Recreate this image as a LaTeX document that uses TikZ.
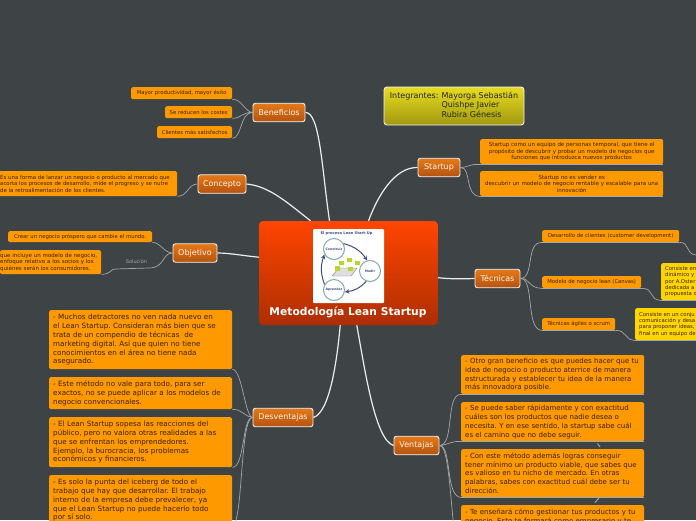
\documentclass[tikz,border=0pt]{standalone}
\usepackage{fontspec}
\setmainfont{DejaVu Sans}
\frenchspacing
\definecolor{bgc}{HTML}{3E4446}
\definecolor{leafc}{HTML}{FF9900}
\definecolor{leaft}{HTML}{3A2004}
\definecolor{yelc}{HTML}{FFD500}
\definecolor{linec}{HTML}{A3A8A8}
\definecolor{mainl}{HTML}{ECEEEE}
\definecolor{ringc}{HTML}{7FAAB5}
\definecolor{arrc}{HTML}{3F4F86}
\definecolor{ctop}{HTML}{FF4500}
\definecolor{cbot}{HTML}{AD2E00}
\definecolor{ttop}{HTML}{E67A18}
\definecolor{tbot}{HTML}{B45210}
\definecolor{itop}{HTML}{E8DC20}
\definecolor{ibot}{HTML}{A09810}
\definecolor{stubc}{HTML}{8FA6AE}
\tikzset{
 x=1pt,y=-1pt,
 topic/.style={draw=white!90!gray,line width=.9pt,rounded corners=2.5pt,top color=ttop,bottom color=tbot,text=white!92!orange,font=\fontsize{8}{9}\selectfont,inner sep=0pt,minimum height=18.5pt,anchor=center},
 leafs/.style={fill=leafc,rounded corners=1.5pt,text=leaft,font=\fontsize{5.3}{6.4}\selectfont,inner sep=0pt,anchor=north west,align=left},
 leafb/.style={fill=leafc,rounded corners=1.5pt,text=leaft,font=\fontsize{7.2}{8.9}\selectfont,inner sep=0pt,anchor=north west,align=left,inner xsep=4pt,text width=175pt},
 leafv/.style={leafb,font=\fontsize{7}{8.9}\selectfont},
 yel/.style={fill=yelc,rounded corners=1.5pt,text=leaft,font=\fontsize{5.3}{6.4}\selectfont,inner sep=0pt,inner xsep=4pt,anchor=north west,align=left},
 wire/.style={draw=linec,line width=.7pt},
 mainw/.style={draw=mainl,line width=1.2pt},
 stub/.style={draw=stubc,line width=1pt},
 ring/.style={draw=ringc,line width=1pt,fill=white,circle,minimum size=21pt,inner sep=0pt,text=arrc,font=\fontsize{3.2}{3}\bfseries\selectfont},
 loopar/.style={draw=arrc,line width=1pt,-stealth},
}
\begin{document}
\begin{tikzpicture}
\useasboundingbox (0,0) rectangle (696,520);
\clip (0,0) rectangle (696,520);
\fill[bgc] (0,0) rectangle (696,520);

% central
\node[rounded corners=4pt,top color=ctop,bottom color=cbot,minimum width=179pt,minimum height=104pt,inner sep=0pt] (c) at (348.5,273) {};
\node[fill=white,rounded corners=1pt,minimum width=71pt,minimum height=74pt,inner sep=0pt] (img) at (348.5,266) {};
\node[text=arrc,font=\fontsize{3.7}{4}\bfseries\selectfont,inner sep=0pt] (imt) at (346.5,233) {El proceso Lean Start-Up};
\node[ring] (r1) at (334,249) {Construir};
\node[ring] (r2) at (370,271) {Medir};
\node[ring] (r3) at (334,290) {Aprender};
\fill[gray!25,draw=gray,line width=.4pt] (332,276) -- (339,268) -- (357,268) -- (351,276) -- cycle;
\fill[yellow!75!green!85!gray] (335,266) rectangle (340,271) (339,261) rectangle (344,265) (347,258) rectangle (352,262) (355,261) rectangle (360,265) (348,267) rectangle (353,271);
\draw[loopar] (r1.30) to[bend left=20] (r2.105);
\draw[loopar] (r2.250) to[bend left=20] (r3.-10);
\draw[loopar] (r3.150) to[bend left=20] (r1.210);
\node[text=white,font=\fontsize{10.7}{12}\bfseries\selectfont,inner sep=0pt] (ct) at (348,312) {Metodología Lean Startup};

% integrantes
\node[draw=white!90!gray,line width=.9pt,rounded corners=3pt,top color=itop,bottom color=ibot,minimum width=140pt,minimum height=38pt,inner sep=0pt,text=black!85,font=\fontsize{8}{9.7}\selectfont] (int) at (454,106) {\begin{tabular}{@{}l@{\hspace{3pt}}l@{}}Integrantes: & Mayorga Sebastián\\ & Quishpe Javier\\ & Rubira Génesis\end{tabular}};

% topics
\node[topic,minimum width=52pt] (ben) at (279,112.5) {Beneficios};
\node[topic,minimum width=48pt] (con) at (222,184) {Concepto};
\node[topic,minimum width=44pt] (obj) at (195,253) {Objetivo};
\node[topic,minimum width=60pt] (des) at (283,417.5) {Desventajas};
\node[topic,minimum width=42pt] (sta) at (439,167.5) {Startup};
\node[topic,minimum width=45pt] (tec) at (497.5,278.5) {Técnicas};
\node[topic,minimum width=45pt] (ven) at (416.5,445.5) {Ventajas};

% beneficios
\node[leafs,minimum width=101pt,minimum height=12pt,align=center,text width=101pt] (b1) at (131,87) {Mayor productividad, mayor éxito};
\node[leafs,minimum width=67pt,minimum height=12pt,align=center,text width=67pt] (b2) at (165,106) {Se reducen los costes};
\node[leafs,minimum width=75pt,minimum height=12pt,align=center,text width=75pt] (b3) at (157,126) {Clientes más satisfechos};
% concepto
\node[leafs,text width=180pt,minimum height=25pt,font=\fontsize{5.4}{6.4}\selectfont] (k1) at (-3,171) {\hspace{3pt}Es una forma de lanzar un negocio o producto al mercado que\\\hspace{3pt}acorta los procesos de desarrollo, mide el progreso y se nutre\\\hspace{3pt}de la retroalimentación de los clientes.};
% objetivo
\node[leafs,minimum width=144pt,minimum height=11pt,align=center,text width=144pt] (o1) at (8,231) {Crear un negocio próspero que cambie el mundo.};
\node[leafs,text width=101pt,minimum height=24pt,font=\fontsize{5.5}{6.4}\selectfont] (o2) at (0,250) {que incluye un modelo de negocio,\\enfoque relativo a los socios y los\\quiénes serán los consumidores.};
\node[text=linec,font=\fontsize{5}{6}\selectfont,inner sep=0pt] (sol) at (136.5,262) {Solución};

% startup
\node[leafs,text width=183pt,minimum height=25pt,align=center,font=\fontsize{5.5}{6.4}\selectfont] (s1) at (480,139) {Startup como un equipo de personas temporal, que tiene el\\propósito de descubrir y probar un modelo de negocios que\\funciones que introduzca nuevos productos};
\node[leafs,text width=183pt,minimum height=25pt,align=center,font=\fontsize{5.5}{6.4}\selectfont] (s2) at (480,171) {Startup no es vender es\\descubrir un modelo de negocio rentable y escalable para una\\innovación};

% tecnicas
\node[leafs,minimum width=137pt,minimum height=12pt,align=center,text width=137pt] (t1) at (542,230) {Desarrollo de clientes (customer development)};
\node[leafs,minimum width=99pt,minimum height=12pt,align=center,text width=99pt] (t2) at (542,276) {Modelo de negocio lean (Canvas)};
\node[leafs,minimum width=73pt,minimum height=12pt,align=center,text width=73pt] (t3) at (542,318) {Técnicas ágiles o scrum};
\node[yel,text width=60pt,minimum height=37pt] (y1) at (661,263) {Consiste en\\dinámico y\\por A.Oster\\dedicada a\\propuesta d};
\node[yel,text width=70pt,minimum height=32pt] (y2) at (635,308) {Consiste en un conju\\comunicación y desa\\para proponer ideas,\\final en un equipo de};

% ventajas
\node[leafv,minimum height=39pt] (v1) at (461,355) {- Otro gran beneficio es que puedes hacer que tu\\idea de negocio o producto aterrice de manera\\estructurada y establecer tu idea de la manera\\más innovadora posible.};
\node[leafv,minimum height=39pt] (v2) at (461,402) {- Se puede saber rápidamente y con exactitud\\cuáles son los productos que nadie desea o\\necesita. Y en ese sentido, la startup sabe cuál\\es el camino que no debe seguir.};
\node[leafv,minimum height=48pt] (v3) at (461,449) {- Con este método además logras conseguir\\tener mínimo un producto viable, que sabes que\\es valioso en tu nicho de mercado. En otras\\palabras, sabes con exactitud cuál debe ser tu\\dirección.};
\node[leafv,minimum height=58pt] (v4) at (461,505) {- Te enseñará cómo gestionar tus productos y tu\\negocio. Esto te formará como empresario y te\\\mbox{}\\\mbox{}\\\mbox{}\\\mbox{}};

% desventajas
\node[leafb,minimum height=59pt] (d1) at (49,310) {- Muchos detractores no ven nada nuevo en\\el Lean Startup. Consideran más bien que se\\trata de un compendio de técnicas \ de\\marketing digital. Así que quien no tiene\\conocimientos en el área no tiene nada\\asegurado.};
\node[leafb,minimum height=32pt] (d2) at (49,377) {- Este método no vale para todo, para ser\\exactos, no se puede aplicar a los modelos de\\negocio convencionales.};
\node[leafb,minimum height=50pt] (d3) at (49,417) {- El Lean Startup sopesa las reacciones del\\público, pero no valora otras realidades a las\\que se enfrentan los emprendedores.\\Ejemplo, la burocracia, los problemas\\económicos y financieros.};
\node[leafb,minimum height=50pt] (d4) at (49,475) {- Es solo la punta del iceberg de todo el\\trabajo que hay que desarrollar. El trabajo\\interno de la empresa debe prevalecer, ya\\que el Lean Startup no puede hacerlo todo\\por sí solo.};

% main connectors
\draw[mainw] (ben.east) .. controls (320,112) and (322,170) .. (c.110);
\draw[mainw] (con.east) .. controls (270,186) and (290,205) .. (c.126);
\draw[mainw] (obj.east) .. controls (230,253) and (245,256) .. (c.170);
\draw[mainw] (des.east) .. controls (330,412) and (337,360) .. (c.261);
\draw[mainw] (ven.west) .. controls (375,440) and (365,370) .. (c.279);
\draw[mainw] (tec.west) .. controls (460,279) and (450,279) .. (c.-3);
\draw[mainw] (sta.west) .. controls (395,167) and (378,195) .. (c.69);

% leaf connectors
\draw[wire] (ben.west) .. controls (245,112) and (242,99) .. (b1.south east);
\draw[wire] (ben.west) .. controls (242,112) and (242,118) .. (b2.south east);
\draw[wire] (ben.west) .. controls (240,112) and (242,138) .. (b3.south east);
\draw[wire] (con.west) .. controls (188,184) and (188,196) .. (k1.south east);
\draw[wire] (obj.west) .. controls (164,253) and (160,242) .. (o1.south east);
\draw[wire] (obj.west) .. controls (162,253) and (165,268) .. (149,268) -- (115,269) .. controls (110,269) and (112,274) .. (o2.south east);
\foreach \n in {s1,s2,t1,t2,t3,v1,v2,v3}{\draw[wire] (\n.south west) -- (\n.south east);}
\draw[wire] (sta.east) .. controls (470,167) and (468,164) .. (s1.south west);
\draw[wire] (sta.east) .. controls (472,167) and (464,196) .. (s2.south west);
\draw[wire] (tec.east) .. controls (535,278) and (525,242) .. (t1.south west);
\draw[wire] (tec.east) .. controls (530,278) and (528,288) .. (t2.south west);
\draw[wire] (tec.east) .. controls (535,278) and (525,330) .. (t3.south west);
\coordinate (t1e) at (696,255);
\draw[wire] (t1.south east) .. controls (690,242) and (685,254) .. (t1e);
\draw[wire] (t2.south east) .. controls (655,288) and (648,300) .. (y1.south west) -- (y1.south east);
\draw[wire] (t3.south east) .. controls (627,330) and (624,340) .. (y2.south west) -- (y2.south east);
\draw[wire] (ven.east) .. controls (455,445) and (445,394) .. (v1.south west);
\draw[wire] (ven.east) .. controls (448,445) and (450,441) .. (v2.south west);
\draw[wire] (ven.east) .. controls (452,445) and (445,497) .. (v3.south west);
\draw[wire] (ven.east) .. controls (452,445) and (450,540) .. (v4.south west);
\draw[wire] (des.west) .. controls (245,417) and (242,369) .. (d1.south east);
\draw[wire] (des.west) .. controls (245,417) and (242,409) .. (d2.south east);
\draw[wire] (des.west) .. controls (242,417) and (245,467) .. (d3.south east);
\draw[wire] (des.west) .. controls (240,417) and (243,525) .. (d4.south east);
% short fragments between the boxes
\coordinate (f1a) at (597.5,443.5); \coordinate (f1b) at (600,447);
\coordinate (f2a) at (599,498); \coordinate (f2b) at (595,502.5);
\draw[stub] (f1a) -- (f1b);
\draw[stub] (f2a) -- (f2b);
\end{tikzpicture}
\end{document}
